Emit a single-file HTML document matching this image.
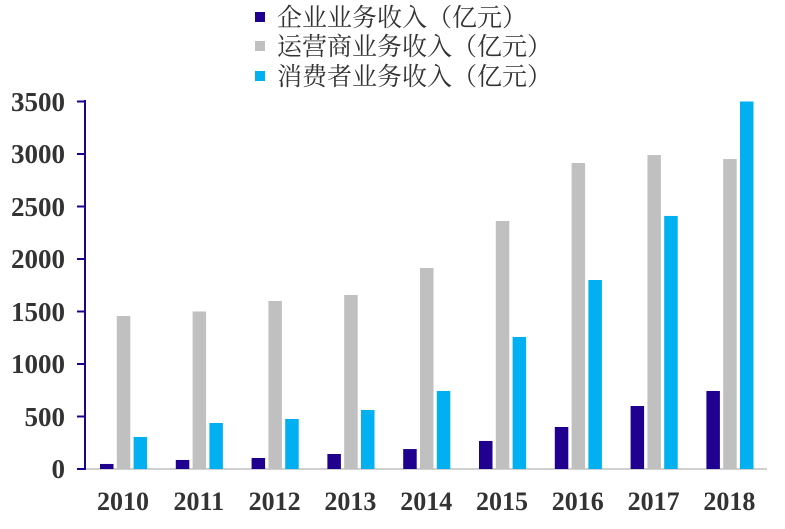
<!DOCTYPE html>
<html><head><meta charset="utf-8"><style>
body{margin:0;background:#fff;width:785px;height:524px;overflow:hidden}
</style></head><body>
<svg width="785" height="524" xmlns="http://www.w3.org/2000/svg">
<g font-family="'Liberation Serif','Noto Serif CJK SC',serif" font-size="25" fill="#333">
<rect x="255" y="12" width="10" height="10" fill="#1f008f"/>
<text x="277" y="26">企业业务收入（亿元）</text>
<rect x="255" y="41" width="10" height="10" fill="#c0c0c0"/>
<text x="277" y="55">运营商业务收入（亿元）</text>
<rect x="255" y="71" width="10" height="10" fill="#00b0f0"/>
<text x="277" y="85">消费者业务收入（亿元）</text>
</g>
<line x1="85" y1="469" x2="767" y2="469" stroke="#d0d0d0" stroke-width="2"/>
<line x1="85" y1="100" x2="85" y2="470" stroke="#1f008f" stroke-width="2"/>
<g stroke="#1f008f" stroke-width="2">
<line x1="77" x2="85" y1="469" y2="469"/><line x1="77" x2="85" y1="416.5" y2="416.5"/>
<line x1="77" x2="85" y1="364" y2="364"/><line x1="77" x2="85" y1="311.5" y2="311.5"/>
<line x1="77" x2="85" y1="259" y2="259"/><line x1="77" x2="85" y1="206.5" y2="206.5"/>
<line x1="77" x2="85" y1="154" y2="154"/><line x1="77" x2="85" y1="101.5" y2="101.5"/>
</g>
<g font-family="'Liberation Serif',serif" font-weight="bold" font-size="27" fill="#333" text-anchor="end">
<text x="65" y="478">0</text><text x="65" y="426">500</text><text x="65" y="373">1000</text>
<text x="65" y="321">1500</text><text x="65" y="268">2000</text><text x="65" y="216">2500</text>
<text x="65" y="163">3000</text><text x="65" y="111">3500</text>
</g>
<g id="bars"></g>
<g font-family="'Liberation Serif',serif" font-weight="bold" font-size="26" fill="#333" text-anchor="middle" id="xl"></g>
</svg>
<script>
var d=[[48,1457,305],[86,1500,438],[105,1600,476],[143,1657,562],[190,1914,743],[267,2362,1257],[400,2914,1800],[600,2990,2410],[743,2952,3500]];
var c=["#1f008f","#c0c0c0","#00b0f0"],s="",t="";
for(var i=0;i<9;i++){var x0=100+i*75.8;for(var j=0;j<3;j++){var h=d[i][j]*0.105;s+='<rect x="'+(x0+j*16.8)+'" y="'+(469-h)+'" width="13.5" height="'+h+'" fill="'+c[j]+'"/>';}
t+='<text x="'+(x0+23)+'" y="510">'+(2010+i)+'</text>';}
document.getElementById("bars").innerHTML=s;document.getElementById("xl").innerHTML=t;
</script>
</body></html>
